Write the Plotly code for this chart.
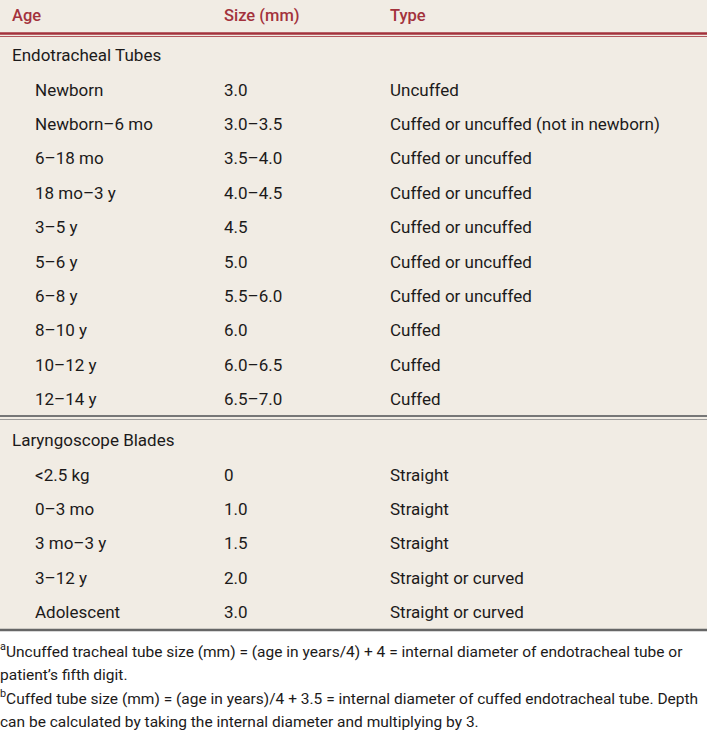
import plotly.graph_objects as go

# table content
header = ["Age", "Size (mm)", "Type"]

ett_title = "Endotracheal Tubes"
ett_age = ["Newborn", "Newborn–6 mo", "6–18 mo", "18 mo–3 y", "3–5 y", "5–6 y",
           "6–8 y", "8–10 y", "10–12 y", "12–14 y"]
ett_size = ["3.0", "3.0–3.5", "3.5–4.0", "4.0–4.5", "4.5", "5.0",
            "5.5–6.0", "6.0", "6.0–6.5", "6.5–7.0"]
ett_type = ["Uncuffed", "Cuffed or uncuffed (not in newborn)", "Cuffed or uncuffed",
            "Cuffed or uncuffed", "Cuffed or uncuffed", "Cuffed or uncuffed",
            "Cuffed or uncuffed", "Cuffed", "Cuffed", "Cuffed"]

blade_title = "Laryngoscope Blades"
blade_age = ["<2.5 kg", "0–3 mo", "3 mo–3 y", "3–12 y", "Adolescent"]
blade_size = ["0", "1.0", "1.5", "2.0", "3.0"]
blade_type = ["Straight", "Straight", "Straight", "Straight or curved", "Straight or curved"]

footnotes = [
    "<sup>a</sup>Uncuffed tracheal tube size (mm) = (age in years/4) + 4 = internal diameter of endotracheal tube or",
    "patient’s fifth digit.",
    "<sup>b</sup>Cuffed tube size (mm) = (age in years)/4 + 3.5 = internal diameter of cuffed endotracheal tube. Depth",
    "can be calculated by taking the internal diameter and multiplying by 3.",
]

W, H = 707, 747
FONT = "Roboto, Liberation Sans, Arial"
TXT = "#1c1a1a"
RED = "#a3323c"
BG = "#f1ece4"
ROW = 34.4

# column positions
X_SECTION, X_AGE, X_SIZE, X_TYPE = 12, 35, 224, 390

fig = go.Figure()

# backgrounds and rules
fig.add_shape(type="rect", x0=0, x1=W, y0=0, y1=631, fillcolor=BG, line_width=0, layer="below")
fig.add_shape(type="line", x0=0, x1=W, y0=33.5, y1=33.5, line=dict(color=RED, width=2.5))
fig.add_shape(type="line", x0=0, x1=W, y0=36.5, y1=36.5, line=dict(color=RED, width=0.8))
fig.add_shape(type="line", x0=0, x1=W, y0=416, y1=416, line=dict(color="#777777", width=2.2))
fig.add_shape(type="line", x0=0, x1=W, y0=419.5, y1=419.5, line=dict(color="#888888", width=0.8))
fig.add_shape(type="line", x0=0, x1=W, y0=630, y1=630, line=dict(color="#666666", width=2.5))


def text_trace(xs, ys, labels, color=TXT, size=17, weight="normal"):
    return go.Scatter(
        x=xs, y=ys, mode="text", text=labels,
        textposition="middle right",
        textfont=dict(family=FONT, size=size, color=color, weight=weight),
        hoverinfo="skip", showlegend=False,
    )


# header
fig.add_trace(text_trace([X_SECTION, X_SIZE, X_TYPE], [17, 17, 17], header,
                         color=RED, size=16.5, weight=500))

# endotracheal tubes section
y0 = 57
fig.add_trace(text_trace([X_SECTION], [y0], [ett_title]))
ys = [y0 + ROW * (i + 1) for i in range(len(ett_age))]
fig.add_trace(text_trace([X_AGE] * len(ys), ys, ett_age))
fig.add_trace(text_trace([X_SIZE] * len(ys), ys, ett_size))
fig.add_trace(text_trace([X_TYPE] * len(ys), ys, ett_type))

# laryngoscope blades section
y1 = 442
fig.add_trace(text_trace([X_SECTION], [y1], [blade_title]))
ys = [y1 + ROW * (i + 1) for i in range(len(blade_age))]
fig.add_trace(text_trace([X_AGE] * len(ys), ys, blade_age))
fig.add_trace(text_trace([X_SIZE] * len(ys), ys, blade_size))
fig.add_trace(text_trace([X_TYPE] * len(ys), ys, blade_type))

# footnotes
fy = [653, 676, 700, 723]
fig.add_trace(text_trace([0] * len(fy), fy, footnotes, size=15.5))

fig.update_layout(
    width=W, height=H,
    margin=dict(l=0, r=0, t=0, b=0),
    paper_bgcolor="white", plot_bgcolor="white",
    xaxis=dict(visible=False, range=[0, W], fixedrange=True),
    yaxis=dict(visible=False, range=[H, 0], fixedrange=True),
)

fig.write_html("out.html", config={"displayModeBar": False},
               post_script="document.body.style.margin='0';")
